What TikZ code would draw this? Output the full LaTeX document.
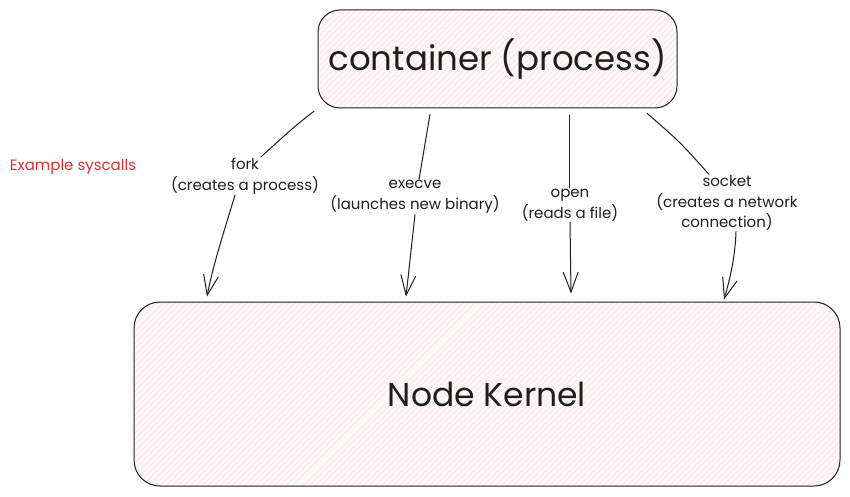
\documentclass[tikz,border=0pt]{standalone}
\usepackage{fontspec}
\setmainfont{Poppins}
\usetikzlibrary{arrows.meta,patterns.meta}
\definecolor{hatch}{HTML}{FFD6D6}
\definecolor{boxfill}{HTML}{FFF8F8}
\definecolor{syscol}{HTML}{E03131}
\definecolor{ink}{HTML}{1E1E1E}
\begin{document}
\begin{tikzpicture}[x=1pt,y=-1pt,
  box/.style={draw=ink, line width=1pt, rounded corners=22pt, preaction={fill=boxfill},
    pattern={Lines[angle=45,distance=4pt,line width=0.5pt]}, pattern color=hatch,
    inner sep=0pt, text=ink},
  lbl/.style={font=\fontsize{15}{20.5}\selectfont, text=ink, align=center, inner sep=1pt},
  conn/.style={draw=ink, line width=1pt, line cap=round},
  arr/.style={conn, -{Straight Barb[length=20pt,width=15pt,line width=1pt]}}]
\useasboundingbox (0,0) rectangle (850,497);
\fill[white] (0,0) rectangle (850,497);

\node[box, minimum width=359pt, minimum height=98pt, font=\fontsize{34}{38}\selectfont] (top) at (497.5,59) {container (process)};
\node[box, minimum width=706pt, minimum height=184pt, rounded corners=26pt, font=\fontsize{33}{38}\selectfont] (kern) at (487,394) {Node Kernel};

\node[lbl, text=syscol] (ex) at (73,167) {Example syscalls};

\node[lbl] (fork) at (245,176) {fork\\(creates a process)};
\node[lbl] (execve) at (415,197) {execve\\(launches new binary)};
\node[lbl] (open) at (570,205) {open\\(reads a file)};
\node[lbl] (socket) at (727,203) {socket\\(creates a network\\connection)};

% fork
\draw[conn] ([xshift=-183.5pt,yshift=-3pt]top.south) .. controls (295,126) .. ([xshift=16pt]fork.north);
\draw[arr] ([xshift=-10pt]fork.south) .. controls (226,225) and (213,265) .. ([xshift=-280pt,yshift=5pt]kern.north);
% execve
\draw[conn] ([xshift=-67.5pt,yshift=-6pt]top.south) -- ([xshift=4pt]execve.north);
\draw[arr] (execve.south) -- ([xshift=-81pt,yshift=5pt]kern.north);
% open
\draw[conn] ([xshift=71.5pt,yshift=-7pt]top.south) -- ([xshift=-1pt]open.north);
\draw[arr] (open.south) -- ([xshift=84pt,yshift=8pt]kern.north);
% socket
\draw[conn] ([xshift=149.5pt,yshift=-5pt]top.south) .. controls (680,142) .. ([xshift=-18pt]socket.north);
\draw[arr] ([xshift=9pt]socket.south) .. controls (735,260) and (729,282) .. ([xshift=237pt,yshift=2pt]kern.north);
\end{tikzpicture}
\end{document}
